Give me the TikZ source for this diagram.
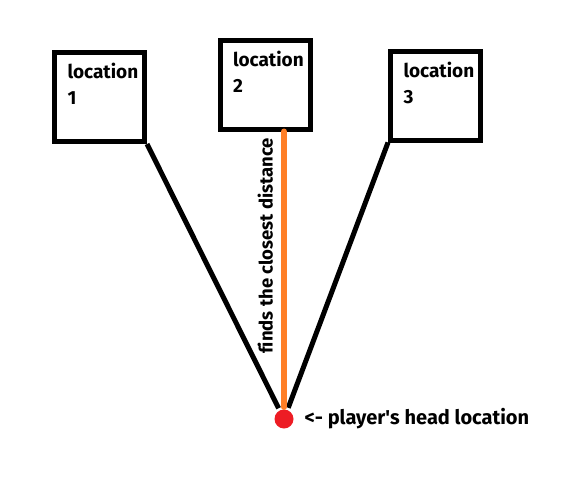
\documentclass[tikz,border=0pt]{standalone}
\usepackage{fontspec}
\setmainfont{Fira Sans}[Ligatures=NoCommon]
\usepackage{tikz}
\usetikzlibrary{positioning}
\definecolor{paintorange}{RGB}{255,127,39}
\definecolor{paintred}{RGB}{237,28,36}
\tikzset{x=1pt, y=-1pt, location/.style={draw, rectangle, minimum width=90pt, minimum height=89pt, inner sep=0pt}, loclabel/.style={anchor=north west, align=left, inner sep=0pt, xshift=13pt, yshift=-11pt, font=\bfseries\fontsize{19}{26}\selectfont}}

\begin{document}
\begin{tikzpicture}[line width=5pt, every node/.style={font=\bfseries\fontsize{19}{22}\selectfont}]
	\useasboundingbox (0,0) rectangle (581,479);
	\node[location, label={[loclabel]north west:{location\\1}}] at (99.5,97) (Loc1) {};
	\node[location, label={[loclabel]north west:{location\\2}}] at (265,84.5) (Loc2) {};
	\node[location, label={[loclabel]north west:{location\\3}}] at (435.5,95.5) (Loc3) {};
	\node[circle, fill=paintred, minimum size=19pt, inner sep=0pt] at (284,419) (Head) {};
	\node[right=6pt of Head, inner sep=0pt, font=\bfseries\fontsize{20}{22}\selectfont] (Head label) {<- player\textquotesingle s head location};
	\draw (Loc1.south east) -- (Head);
	\draw (Loc3.south west) -- (Head);
	\draw[paintorange, line width=6pt, line cap=round] (Head) -- (Head |- Loc2.south) node[pos=0.585, sloped, above=8pt, text=black, inner sep=0pt, font=\bfseries\fontsize{18.5}{20}\selectfont]{finds the closest distance};
\end{tikzpicture}
\end{document}
